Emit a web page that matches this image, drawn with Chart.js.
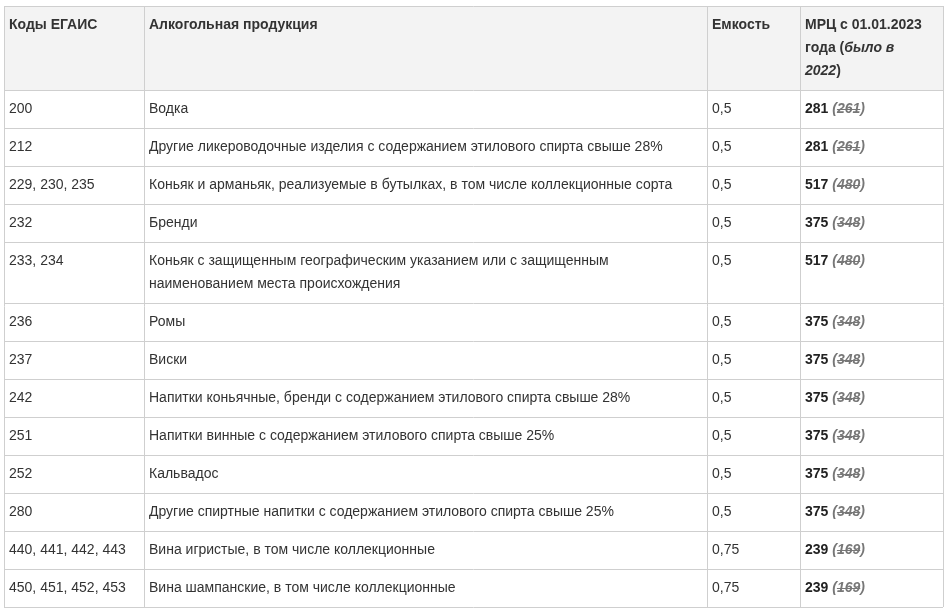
<!DOCTYPE html>
<html>
<head>
<meta charset="utf-8">
<script src="https://cdn.jsdelivr.net/npm/chart.js@4"></script>
<style>
  html, body { margin: 0; padding: 0; background: #fff; }
  #wrap { width: 948px; height: 611px; }
</style>
</head>
<body>
<div id="wrap"><canvas id="tableChart"></canvas></div>
<script>
// данные таблицы
const headers = ['Коды ЕГАИС', 'Алкогольная продукция', 'Емкость', 'МРЦ с 01.01.2023'];
const codes = ['200', '212', '229, 230, 235', '232', '233, 234', '236', '237', '242', '251', '252', '280', '440, 441, 442, 443', '450, 451, 452, 453'];
const products = [
    ['Водка'],
    ['Другие ликероводочные изделия с содержанием этилового спирта свыше 28%'],
    ['Коньяк и арманьяк, реализуемые в бутылках, в том числе коллекционные сорта'],
    ['Бренди'],
    ['Коньяк с защищенным географическим указанием или с защищенным', 'наименованием места происхождения'],
    ['Ромы'],
    ['Виски'],
    ['Напитки коньячные, бренди с содержанием этилового спирта свыше 28%'],
    ['Напитки винные с содержанием этилового спирта свыше 25%'],
    ['Кальвадос'],
    ['Другие спиртные напитки с содержанием этилового спирта свыше 25%'],
    ['Вина игристые, в том числе коллекционные'],
    ['Вина шампанские, в том числе коллекционные']
];
const volumes = ['0,5', '0,5', '0,5', '0,5', '0,5', '0,5', '0,5', '0,5', '0,5', '0,5', '0,5', '0,75', '0,75'];
const price2023 = [281, 281, 517, 375, 517, 375, 375, 375, 375, 375, 375, 239, 239];
const price2022 = [261, 261, 480, 348, 480, 348, 348, 348, 348, 348, 348, 169, 169];

const colWidths = [140, 563, 93, 143];
const lineH = 23, rowPad = 15;
const FONT = '"Liberation Sans", Arial, sans-serif';

// строки: заголовок + данные, высота в единицах оси y
const rowLines = [3].concat(products.map(p => p.length));
const rowTops = [];
let acc = 0;
rowLines.forEach(n => { rowTops.push(acc); acc += rowPad + lineH * n; });
const totalH = acc;
const colEdges = [0];
colWidths.forEach(w => colEdges.push(colEdges[colEdges.length - 1] + w));

function drawSegments(ctx, segs, x, y) {
    segs.forEach(s => {
        ctx.font = s.font;
        ctx.fillStyle = s.color || '#333';
        ctx.fillText(s.text, x, y);
        const w = ctx.measureText(s.text).width;
        if (s.strike) {
            const sx = s.strikeFrom != null ? x + ctx.measureText(s.text.slice(0, s.strikeFrom)).width : x;
            const ex = s.strikeTo != null ? x + ctx.measureText(s.text.slice(0, s.strikeTo)).width : x + w;
            ctx.strokeStyle = s.color;
            ctx.lineWidth = 1;
            ctx.beginPath();
            ctx.moveTo(sx, y + 0.5);
            ctx.lineTo(ex, y + 0.5);
            ctx.stroke();
        }
        x += w;
    });
}

const tablePlugin = {
    id: 'tablePlugin',
    afterDraw(chart) {
        const ctx = chart.ctx;
        const xs = chart.scales.x, ys = chart.scales.y;
        const X = v => xs.getPixelForValue(v);
        const Y = v => ys.getPixelForValue(v);
        ctx.save();
        // фон заголовка
        ctx.fillStyle = '#f3f3f3';
        ctx.fillRect(X(0), Y(0), X(totalH) - X(0), Y(rowTops[1]) - Y(0));
        ctx.fillRect(X(0), Y(0), X(colEdges[4]) - X(0), Y(rowTops[1]) - Y(0));
        // линии
        ctx.strokeStyle = '#cfcfcf';
        ctx.lineWidth = 1;
        rowTops.concat([totalH]).forEach(t => {
            const y = Math.round(Y(t)) + 0.5;
            ctx.beginPath(); ctx.moveTo(X(0), y); ctx.lineTo(X(colEdges[4]), y); ctx.stroke();
        });
        colEdges.forEach(e => {
            const x = Math.round(X(e)) + 0.5;
            ctx.beginPath(); ctx.moveTo(x, Y(0)); ctx.lineTo(x, Y(totalH)); ctx.stroke();
        });
        ctx.textBaseline = 'middle';
        const bold = 'bold 14px ' + FONT, normal = '14px ' + FONT, bi = 'italic bold 14px ' + FONT;
        const lineY = (r, i) => Y(rowTops[r] + 19 + lineH * i);
        const cellX = c => X(colEdges[c]) + 5;
        // заголовок
        for (let c = 0; c < 3; c++) drawSegments(ctx, [{ text: headers[c], font: bold }], cellX(c), lineY(0, 0));
        drawSegments(ctx, [{ text: headers[3], font: bold }], cellX(3), lineY(0, 0));
        drawSegments(ctx, [{ text: 'года (', font: bold }, { text: 'было в', font: bi }], cellX(3), lineY(0, 1));
        drawSegments(ctx, [{ text: '2022', font: bi }, { text: ')', font: bold }], cellX(3), lineY(0, 2));
        // данные
        codes.forEach((code, i) => {
            const r = i + 1;
            drawSegments(ctx, [{ text: code, font: normal }], cellX(0), lineY(r, 0));
            products[i].forEach((line, j) => drawSegments(ctx, [{ text: line, font: normal }], cellX(1), lineY(r, j)));
            drawSegments(ctx, [{ text: volumes[i], font: normal }], cellX(2), lineY(r, 0));
            drawSegments(ctx, [
                { text: price2023[i] + ' ', font: bold, color: '#222' },
                { text: '(' + price2022[i] + ')', font: bi, color: '#777', strike: true, strikeFrom: 1, strikeTo: String(price2022[i]).length + 1 }
            ], cellX(3), lineY(r, 0));
        });
        ctx.restore();
    }
};

new Chart(document.getElementById('tableChart').getContext('2d'), {
    type: 'scatter',
    data: { datasets: [{ data: [] }] },
    options: {
        responsive: true,
        maintainAspectRatio: false,
        animation: false,
        layout: { padding: { left: 4, right: 5, top: 6, bottom: 4 } },
        plugins: { legend: { display: false }, tooltip: { enabled: false } },
        scales: {
            x: { type: 'linear', min: 0, max: colEdges[4], display: false },
            y: { type: 'linear', min: 0, max: totalH, reverse: true, display: false }
        }
    },
    plugins: [tablePlugin]
});
</script>
</body>
</html>
